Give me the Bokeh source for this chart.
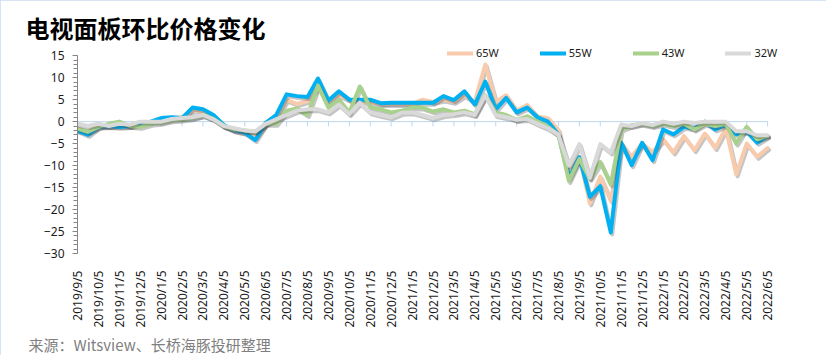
import numpy as np
from bokeh.plotting import figure
from bokeh.models import (Range1d, SingleIntervalTicker, FixedTicker,
                          Legend, LegendItem, Title)
from bokeh.embed import file_html
from bokeh.resources import INLINE

# ---------------- data ----------------
month_labels = [
    "2019/9/5", "2019/10/5", "2019/11/5", "2019/12/5",
    "2020/1/5", "2020/2/5", "2020/3/5", "2020/4/5", "2020/5/5", "2020/6/5",
    "2020/7/5", "2020/8/5", "2020/9/5", "2020/10/5", "2020/11/5", "2020/12/5",
    "2021/1/5", "2021/2/5", "2021/3/5", "2021/4/5", "2021/5/5", "2021/6/5",
    "2021/7/5", "2021/8/5", "2021/9/5", "2021/10/5", "2021/11/5", "2021/12/5",
    "2022/1/5", "2022/2/5", "2022/3/5", "2022/4/5", "2022/5/5", "2022/6/5",
]

# semi-monthly observations (5th and 20th of each month)
w65 = [-2.0, -2.5, -1.0, -1.0, -1.0, -1.0, -0.5, 0.0, 0.5, 0.8,
       1.0, 2.5, 2.5, 1.2, -1.0, -2.0, -2.5, -3.5, -0.5, 1.0,
       5.0, 4.0, 4.7, 8.0, 4.5, 6.0, 5.0, 4.5, 4.5, 4.0,
       4.0, 4.0, 4.0, 5.0, 4.5, 5.0, 4.5, 6.0, 4.5, 13.0,
       4.5, 6.0, 2.5, 3.8, 1.2, 0.8, -2.0, -12.0, -8.0, -18.6,
       -12.5, -18.0, -5.0, -8.0, -5.0, -7.0, -4.0, -7.0, -3.3, -6.5,
       -2.7, -6.0, -1.5, -12.0, -5.0, -8.0, -6.0]
w55 = [-2.0, -3.0, -1.2, -1.0, -1.2, -1.0, -0.5, 0.0, 0.8, 1.0,
       0.8, 3.2, 2.8, 1.5, -0.8, -2.0, -2.5, -4.2, -0.3, 1.5,
       6.2, 5.8, 5.6, 9.8, 4.8, 6.9, 5.0, 5.0, 5.0, 4.2,
       4.3, 4.3, 4.3, 4.3, 4.3, 5.8, 4.9, 6.9, 3.9, 9.1,
       2.8, 5.4, 2.1, 3.2, 1.0, 0.0, -3.0, -12.8, -8.1, -17.1,
       -14.7, -25.2, -4.8, -9.9, -4.8, -8.8, -1.8, -2.9, -1.2, -1.6,
       0.0, -1.8, -0.7, -2.9, -2.2, -4.8, -3.3]
w43 = [-1.6, -2.3, -1.2, -0.5, 0.0, -1.0, -1.2, -0.5, -0.2, 0.3,
       0.5, 0.8, 1.5, 0.6, -1.0, -1.8, -2.0, -2.3, -0.5, -0.5,
       2.5, 3.0, 1.5, 8.2, 3.2, 5.0, 2.1, 8.0, 3.2, 2.8,
       2.1, 2.5, 3.2, 3.2, 2.3, 2.8, 2.1, 2.5, 1.7, 6.0,
       2.1, 1.5, 0.4, 1.2, 0.0, -1.2, -3.0, -13.5, -8.5, -13.0,
       -9.2, -14.3, -1.8, -0.8, -0.5, -1.0, -0.5, -1.0, -0.5, -1.8,
       -0.5, -1.0, -0.5, -5.0, -1.2, -4.0, -3.3]
w32 = [-0.5, -1.0, -0.5, -1.0, -0.5, -0.7, 0.0, 0.0, 0.0, 0.6,
       0.8, 1.0, 1.5, 0.5, -1.0, -1.5, -2.0, -2.2, -0.5, 0.5,
       1.5, 2.5, 2.8, 2.8, 2.1, 3.9, 1.7, 4.3, 2.1, 1.5,
       1.0, 2.0, 2.1, 1.5, 0.8, 1.5, 1.7, 2.1, 1.5, 6.0,
       1.5, 1.0, 0.4, 0.6, -0.5, -1.5, -3.0, -10.0, -5.1, -12.8,
       -5.1, -7.0, -0.7, -1.0, -0.3, -0.8, 0.0, -0.5, 0.0, -0.3,
       0.0, 0.0, 0.0, -2.2, -2.2, -3.1, -3.1]

series_names = ["65W", "55W", "43W", "32W"]
series_values = [w65, w55, w43, w32]
series_colors = ["#F8CBAD", "#00B0F0", "#A9D18E", "#D9D9D9"]

y_min, y_max = -30, 15

# ---------------- figure ----------------
n_months = len(month_labels) - 1
x = np.arange(len(w55)) * 0.5  # months since first label

p = figure(width=826, height=355, output_backend="svg", toolbar_location=None,
           x_range=Range1d(0, n_months + 1), y_range=Range1d(y_min, y_max + 3),
           min_border_left=77, min_border_right=38,
           min_border_top=42, min_border_bottom=93,
           background_fill_color="white", border_fill_color="white")
p.xgrid.visible = False
p.ygrid.visible = False
p.outline_line_color = None
p.styles = {"outline": "1px solid #CADBEF", "outline-offset": "-1px"}

# y axis
yax = p.yaxis[0]
yax.bounds = (y_min, y_max)
yax.ticker = SingleIntervalTicker(interval=5, num_minor_ticks=5)
yax.axis_line_color = "#868686"
yax.major_tick_line_color = "#868686"
yax.minor_tick_line_color = "#868686"
yax.major_tick_in = 0
yax.major_tick_out = 5
yax.minor_tick_in = 0
yax.minor_tick_out = 4
yax.major_label_text_font = "Noto Sans"
yax.major_label_text_font_size = "12px"
yax.major_label_text_color = "#1a1a1a"
yax.major_label_standoff = 8

# x axis (labels only, at the bottom)
xax = p.xaxis[0]
xax.ticker = FixedTicker(ticks=list(range(len(month_labels))))
xax.major_label_overrides = {i: lab for i, lab in enumerate(month_labels)}
xax.major_label_orientation = np.pi / 2
xax.axis_line_color = None
xax.major_tick_line_color = None
xax.minor_tick_line_color = None
xax.major_label_text_font = "Noto Sans"
xax.major_label_text_font_size = "12px"
xax.major_label_text_color = "#1a1a1a"
xax.major_label_standoff = 11

# zero line with month ticks
tick_x = np.arange(len(month_labels))
p.segment(x0=[tick_x[0]], y0=[0], x1=[tick_x[-1]], y1=[0],
          line_color="#BDD7EE", line_width=1)
p.segment(x0=tick_x, y0=np.zeros(len(tick_x)), x1=tick_x, y1=np.full(len(tick_x), -1.1),
          line_color="#BDD7EE", line_width=1)

# lines with soft shadow
items = []
for name, vals, color in zip(series_names, series_values, series_colors):
    v = np.array(vals)
    p.line(x + 0.07, v - 0.45, line_color="#404040", line_alpha=0.3, line_width=4,
           line_join="round", line_cap="round")
    r = p.line(x, v, line_color=color, line_width=4, line_join="round", line_cap="round")
    items.append(LegendItem(label=name, renderers=[r]))

legend = Legend(items=items, orientation="horizontal", location=(370, 193),
                border_line_color=None, background_fill_alpha=0,
                glyph_width=26, glyph_height=12, label_standoff=3, spacing=41,
                padding=0, margin=0, label_text_font="Noto Sans",
                label_text_font_size="11px", label_text_color="#1a1a1a")
p.add_layout(legend)

# title (above) and source (below)
p.title.text = "电视面板环比价格变化"
p.title.align = "left"
p.title.offset = -52
p.title.standoff = -5
p.title.text_font = "Noto Sans CJK SC"
p.title.text_font_style = "bold"
p.title.text_font_size = "24px"
p.title.text_color = "#000000"

source = Title(text="来源：Witsview、长桥海豚投研整理", align="left", offset=-49,
               standoff=2, text_font="Noto Sans CJK SC", text_font_style="normal",
               text_font_size="15px", text_color="#7F7F7F")
p.add_layout(source, "below")

open("out.html", "w").write(file_html(p, INLINE))
